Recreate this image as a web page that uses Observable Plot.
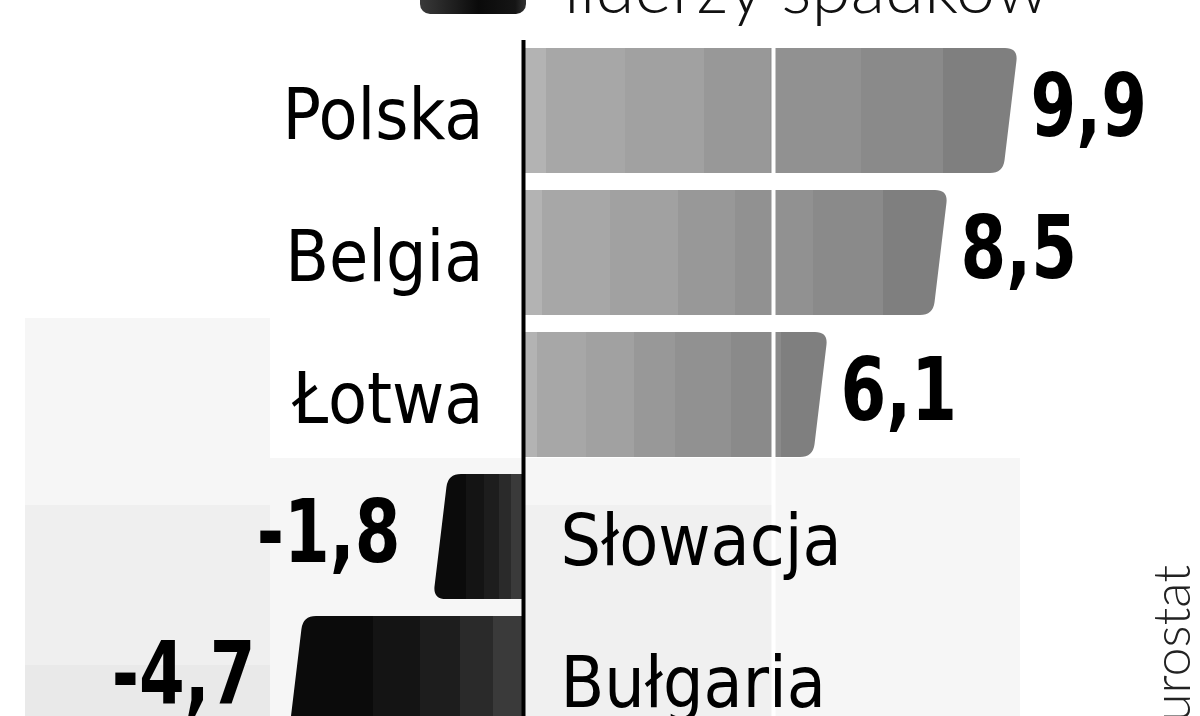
<!DOCTYPE html>
<html>
<head>
<meta charset="utf-8">
<script src="https://cdn.jsdelivr.net/npm/d3@7"></script>
<script src="https://cdn.jsdelivr.net/npm/@observablehq/plot@0.6"></script>
<style>
  html, body { margin: 0; padding: 0; background: #fff; width: 1200px; height: 716px; overflow: hidden; }
  #wrap { position: relative; width: 1200px; height: 716px; overflow: hidden; }
  .panel { position: absolute; }
  #chart { position: absolute; left: 0; top: 0; }
  #legend, #source { position: absolute; left: 0; top: 0; }
</style>
</head>
<body>
<div id="wrap">
  <!-- faint background panels of the original layout -->
  <div class="panel" style="left:25px;top:318px;width:245px;height:187px;background:#f6f6f6"></div>
  <div class="panel" style="left:25px;top:505px;width:245px;height:160px;background:#efefef"></div>
  <div class="panel" style="left:25px;top:665px;width:245px;height:51px;background:#e9e9e9"></div>
  <div class="panel" style="left:270px;top:458px;width:750px;height:258px;background:#f6f6f6"></div>
  <div class="panel" style="left:525px;top:505px;width:247px;height:211px;background:#f0f0f0"></div>
  <div id="chart"></div>
  <svg id="legend" width="1200" height="40">
    <defs>
      <linearGradient id="lg" x1="0" x2="1" y1="0" y2="0">
        <stop offset="0" stop-color="#3a3a3a"/>
        <stop offset="0.55" stop-color="#0a0a0a"/>
        <stop offset="0.9" stop-color="#151515"/>
        <stop offset="1" stop-color="#333"/>
      </linearGradient>
    </defs>
    <rect x="420" y="-24" width="106" height="38" rx="10" fill="url(#lg)"/>
    <text x="564" y="13" font-family="Lato, 'Open Sans', sans-serif" font-weight="300" font-size="71" fill="#111">liderzy spadków</text>
  </svg>
  <svg id="source" width="1200" height="716">
    <text transform="translate(1190,565) rotate(-90)" text-anchor="end" font-family="Lato, 'Open Sans', sans-serif" font-weight="300" font-size="52" fill="#222">Eurostat</text>
  </svg>
</div>
<script>
// ---- data ----
const countries = ["Polska", "Belgia", "Łotwa", "Słowacja", "Bułgaria"];
const values = [9.9, 8.5, 6.1, -1.8, -4.7];
const valueLabels = ["9,9", "8,5", "6,1", "-1,8", "-4,7"];

const data = countries.map((c, i) => ({country: c, value: values[i], label: valueLabels[i]}));
const pos = data.filter(d => d.value > 0);
const neg = data.filter(d => d.value < 0);

const labelFont = "'DejaVu Sans Condensed', 'DejaVu Sans', sans-serif";
const valueFont = "'Liberation Sans Narrow', 'DejaVu Sans Condensed', sans-serif";

const chart = Plot.plot({
  width: 1200,
  height: 716,
  marginTop: 40,
  marginBottom: 0,
  marginLeft: 0,
  marginRight: 0,
  style: {background: "transparent", overflow: "visible"},
  x: {domain: [-10.46, 13.54], range: [0, 1200], axis: null},
  y: {domain: countries, range: [38, 751], paddingInner: 0.12, paddingOuter: 0.06, axis: null},
  marks: [
    Plot.barX(pos, {x1: 0, x2: "value", y: "country", fill: "url(#gpos)"}),
    Plot.barX(neg, {x1: 0, x2: "value", y: "country", fill: "url(#gneg)"}),
    Plot.ruleX([5], {stroke: "white", strokeWidth: 4}),
    Plot.ruleX([0], {stroke: "#000", strokeWidth: 4}),
    Plot.text(pos, {x: 0, y: "country", text: "country", dx: -40, dy: 5, textAnchor: "end",
      fontFamily: labelFont, fontSize: 71, fill: "#000"}),
    Plot.text(neg, {x: 0, y: "country", text: "country", dx: 37, dy: 5, textAnchor: "start",
      fontFamily: labelFont, fontSize: 71, fill: "#000"}),
    Plot.text(pos, {x: "value", y: "country", text: "label", dx: 12, dy: -3, textAnchor: "start",
      fontFamily: valueFont, fontWeight: "bold", fontSize: 88, fill: "#000"}),
    Plot.text(neg, {x: "value", y: "country", text: "label", dx: -33, dy: -3, textAnchor: "end",
      fontFamily: valueFont, fontWeight: "bold", fontSize: 88, fill: "#000"})
  ]
});

// gradients (stepped, like the printed stripes)
const NS = "http://www.w3.org/2000/svg";
function stepGradient(id, colors, bounds) {
  const g = document.createElementNS(NS, "linearGradient");
  g.setAttribute("id", id);
  g.setAttribute("x1", "0"); g.setAttribute("x2", "1");
  g.setAttribute("y1", "0"); g.setAttribute("y2", "0");
  const edges = [0, ...bounds, 1];
  colors.forEach((c, i) => {
    [edges[i], edges[i + 1]].forEach(o => {
      const s = document.createElementNS(NS, "stop");
      s.setAttribute("offset", o);
      s.setAttribute("stop-color", c);
      g.appendChild(s);
    });
  });
  return g;
}
const defs = document.createElementNS(NS, "defs");
defs.appendChild(stepGradient("gpos",
  ["#b3b3b3", "#a7a7a7", "#a1a1a1", "#989898", "#919191", "#8a8a8a", "#7f7f7f"],
  [0.046, 0.206, 0.366, 0.5, 0.685, 0.85]));
defs.appendChild(stepGradient("gneg",
  ["#0b0b0b", "#141414", "#1d1d1d", "#2a2a2a", "#3a3a3a"],
  [0.36, 0.56, 0.73, 0.87]));
chart.insertBefore(defs, chart.firstChild);

// give the bars their rounded, slanted outer end
const S = 15, R = 13;
const zeroPx = chart.scale("x").apply(0);
chart.querySelectorAll('g[aria-label="bar"] rect').forEach(rect => {
  const x = +rect.getAttribute("x"), y0 = +rect.getAttribute("y");
  const w = +rect.getAttribute("width"), h = +rect.getAttribute("height");
  const y1 = y0 + h;
  const k = S * R / h;
  let d;
  if (Math.abs(x - zeroPx) < 1) {
    const xe = x + w; // top-right corner = value
    d = `M${x},${y0} L${xe - R},${y0} Q${xe},${y0} ${xe - k},${y0 + R} ` +
        `L${xe - S + k},${y1 - R} Q${xe - S},${y1} ${xe - S - R},${y1} L${x},${y1} Z`;
  } else {
    const xl = x, xr = x + w; // bottom-left corner = value
    d = `M${xr},${y0} L${xl + S + R},${y0} Q${xl + S},${y0} ${xl + S - k},${y0 + R} ` +
        `L${xl + k},${y1 - R} Q${xl},${y1} ${xl + R},${y1} L${xr},${y1} Z`;
  }
  const p = document.createElementNS(NS, "path");
  p.setAttribute("d", d);
  rect.replaceWith(p);
});

document.getElementById("chart").appendChild(chart);

// narrow the bold value figures (condensed print face)
const textGroups = chart.querySelectorAll('g[aria-label="text"]');
[textGroups[2], textGroups[3]].forEach(g => {
  if (!g) return;
  g.querySelectorAll("text").forEach(t => {
    const L = t.getComputedTextLength();
    if (L > 0) {
      t.setAttribute("textLength", (L * 0.83).toFixed(1));
      t.setAttribute("lengthAdjust", "spacingAndGlyphs");
    }
  });
});
</script>
</body>
</html>
